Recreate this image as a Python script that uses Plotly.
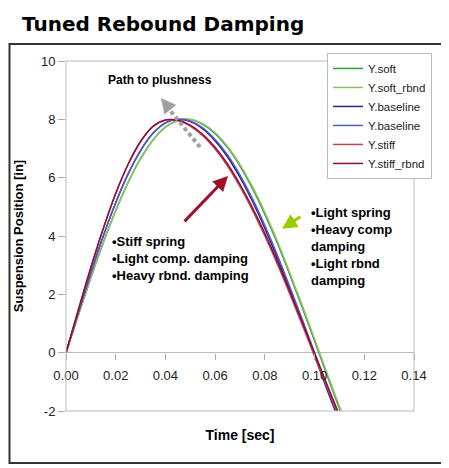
import plotly.graph_objects as go

# time [sec]
t = [0, 0.005, 0.01, 0.015, 0.02, 0.025, 0.03, 0.035, 0.04, 0.045, 0.05, 0.055,
     0.06, 0.065, 0.07, 0.075, 0.08, 0.085, 0.09, 0.095, 0.1, 0.105, 0.11, 0.115]

# suspension position [in]
y_soft = [0, 1.30, 2.57, 3.77, 4.87, 5.84, 6.65, 7.29, 7.73, 7.96, 7.99, 7.83,
          7.51, 7.03, 6.40, 5.63, 4.74, 3.76, 2.68, 1.56, 0.40, -0.77, -1.92, -3.04]
y_soft_rbnd = [0, 1.30, 2.57, 3.77, 4.87, 5.84, 6.65, 7.29, 7.73, 7.96, 8.00, 7.85,
               7.54, 7.07, 6.45, 5.69, 4.81, 3.83, 2.75, 1.63, 0.47, -0.70, -1.85, -2.97]
y_baseline = [0, 1.39, 2.74, 4.00, 5.14, 6.13, 6.93, 7.52, 7.88, 8.00, 7.92, 7.67,
              7.26, 6.71, 6.01, 5.19, 4.26, 3.25, 2.16, 1.04, -0.11, -1.26, -2.38, -3.48]
y_baseline2 = [0, 1.39, 2.74, 4.00, 5.14, 6.13, 6.93, 7.52, 7.88, 8.00, 7.94, 7.71,
               7.31, 6.78, 6.09, 5.28, 4.36, 3.35, 2.27, 1.15, 0.00, -1.15, -2.28, -3.38]
y_stiff = [0, 1.48, 2.92, 4.26, 5.46, 6.46, 7.24, 7.76, 7.98, 7.96, 7.77, 7.44,
           6.98, 6.40, 5.69, 4.89, 4.00, 3.04, 2.02, 0.96, -0.11, -1.18, -2.23, -3.26]
y_stiff_rbnd = [0, 1.48, 2.92, 4.26, 5.46, 6.46, 7.24, 7.76, 7.98, 7.97, 7.80, 7.49,
                7.04, 6.47, 5.77, 4.97, 4.09, 3.13, 2.11, 1.05, -0.02, -1.09, -2.14, -3.17]

names = ['Y.soft', 'Y.soft_rbnd', 'Y.baseline', 'Y.baseline', 'Y.stiff', 'Y.stiff_rbnd']
colors = ['#2E9E3E', '#8CC063', '#26268C', '#5555C8', '#C6404F', '#8E1038']
series = [y_soft, y_soft_rbnd, y_baseline, y_baseline2, y_stiff, y_stiff_rbnd]

ytick_vals = [-2, 0, 2, 4, 6, 8, 10]
ytick_text = ['-2', '0', '2', '4', '6', '8', '10']
xtick_vals = [0, 0.02, 0.04, 0.06, 0.08, 0.10, 0.12, 0.14]

fig = go.Figure()
for nm, col, ys in zip(names, colors, series):
    fig.add_trace(go.Scatter(x=t, y=ys, name=nm, mode='lines',
                             line=dict(color=col, width=1.5, shape='spline')))

font = 'Liberation Sans, Arial, sans-serif'

# page has an 8px body margin, so the figure is drawn 8px smaller / shifted
fig.update_layout(
    width=441, height=460,
    margin=dict(l=58, r=35, t=53, b=57, autoexpand=False),
    paper_bgcolor='white', plot_bgcolor='white',
    font=dict(family=font, size=12, color='#222'),
    title=dict(text='<b>Tuned Rebound Damping</b>', x=14/441, xanchor='left',
               xref='container', y=1-16/460, yanchor='middle',
               font=dict(family='DejaVu Sans', size=20, color='black')),
    showlegend=True,
    legend=dict(x=0.75, y=1.023, xanchor='left', yanchor='top',
                bgcolor='white', bordercolor='#BBBBBB', borderwidth=1,
                font=dict(size=11.5, color='#222'), tracegroupgap=0,
                itemwidth=30),
)

fig.update_xaxes(range=[0, 0.14], tickvals=xtick_vals, tickformat='.2f',
                 anchor='free', position=(411-353)/350, automargin=False,
                 showgrid=False, zeroline=False, showline=False,
                 ticks='outside', ticklen=6, tickcolor='#AAAAAA',
                 ticklabelstandoff=4,
                 tickfont=dict(size=13, color='#222'),
                 title=dict(text='<b>Time [sec]</b>', standoff=48,
                            font=dict(size=14, color='black')))
fig.update_yaxes(range=[-2, 10], tickvals=ytick_vals, ticktext=ytick_text,
                 automargin=False,
                 showgrid=False, showline=False,
                 zeroline=True, zerolinecolor='#BBBBBB', zerolinewidth=1,
                 ticks='outside', ticklen=7, tickcolor='#AAAAAA',
                 tickfont=dict(size=13, color='#222'),
                 title=dict(text='<b>Suspension Position [in]</b>', standoff=14,
                            font=dict(size=13, color='black')))

# plot box and outer frame
fig.add_shape(type='rect', xref='paper', yref='paper', x0=0, x1=1, y0=0, y1=1,
              line=dict(color='#BBBBBB', width=1))
fig.add_shape(type='rect', xref='paper', yref='paper',
              x0=(1.5-58)/348, x1=(435-58)/348, y0=(403-455)/350, y1=(403-36)/350,
              line=dict(color='#333333', width=2))

# grey dotted "path to plushness" arrow
fig.add_shape(type='line', xref='x', yref='y', x0=0.0539, y0=7.05, x1=0.0400, y1=8.50,
              line=dict(color='#A0A0A0', width=4, dash='4px,3px'))
fig.add_annotation(x=0.0382, y=8.73, ax=8, ay=10, showarrow=True, text='',
                   arrowhead=2, arrowsize=1, arrowwidth=3, arrowcolor='#A0A0A0',
                   standoff=0)
fig.add_annotation(x=0.0378, y=9.35, text='<b>Path to plushness</b>', showarrow=False,
                   font=dict(size=12, color='black'))

# red and green arrows
fig.add_annotation(x=0.0652, y=6.06, ax=0.0471, ay=4.45, axref='x', ayref='y',
                   text='', showarrow=True, arrowhead=2, arrowsize=1,
                   arrowwidth=3, arrowcolor='#A0102A', standoff=0)
fig.add_annotation(x=0.0869, y=4.25, ax=0.0949, ay=4.69, axref='x', ayref='y',
                   text='', showarrow=True, arrowhead=2, arrowsize=1,
                   arrowwidth=3, arrowcolor='#99CC00', standoff=0)

fig.add_annotation(x=0.0177, y=3.24, xanchor='left', yanchor='middle', align='left',
                   showarrow=False,
                   text='<b>•Stiff spring<br>•Light comp. damping<br>•Heavy rbnd. damping</b>',
                   font=dict(size=13, color='black'))
fig.add_annotation(x=0.0977, y=3.63, xanchor='left', yanchor='middle', align='left',
                   showarrow=False,
                   text='<b>•Light spring<br>•Heavy comp<br>damping<br>•Light rbnd<br>damping</b>',
                   font=dict(size=13, color='black'))

fig.write_html('out.html')
